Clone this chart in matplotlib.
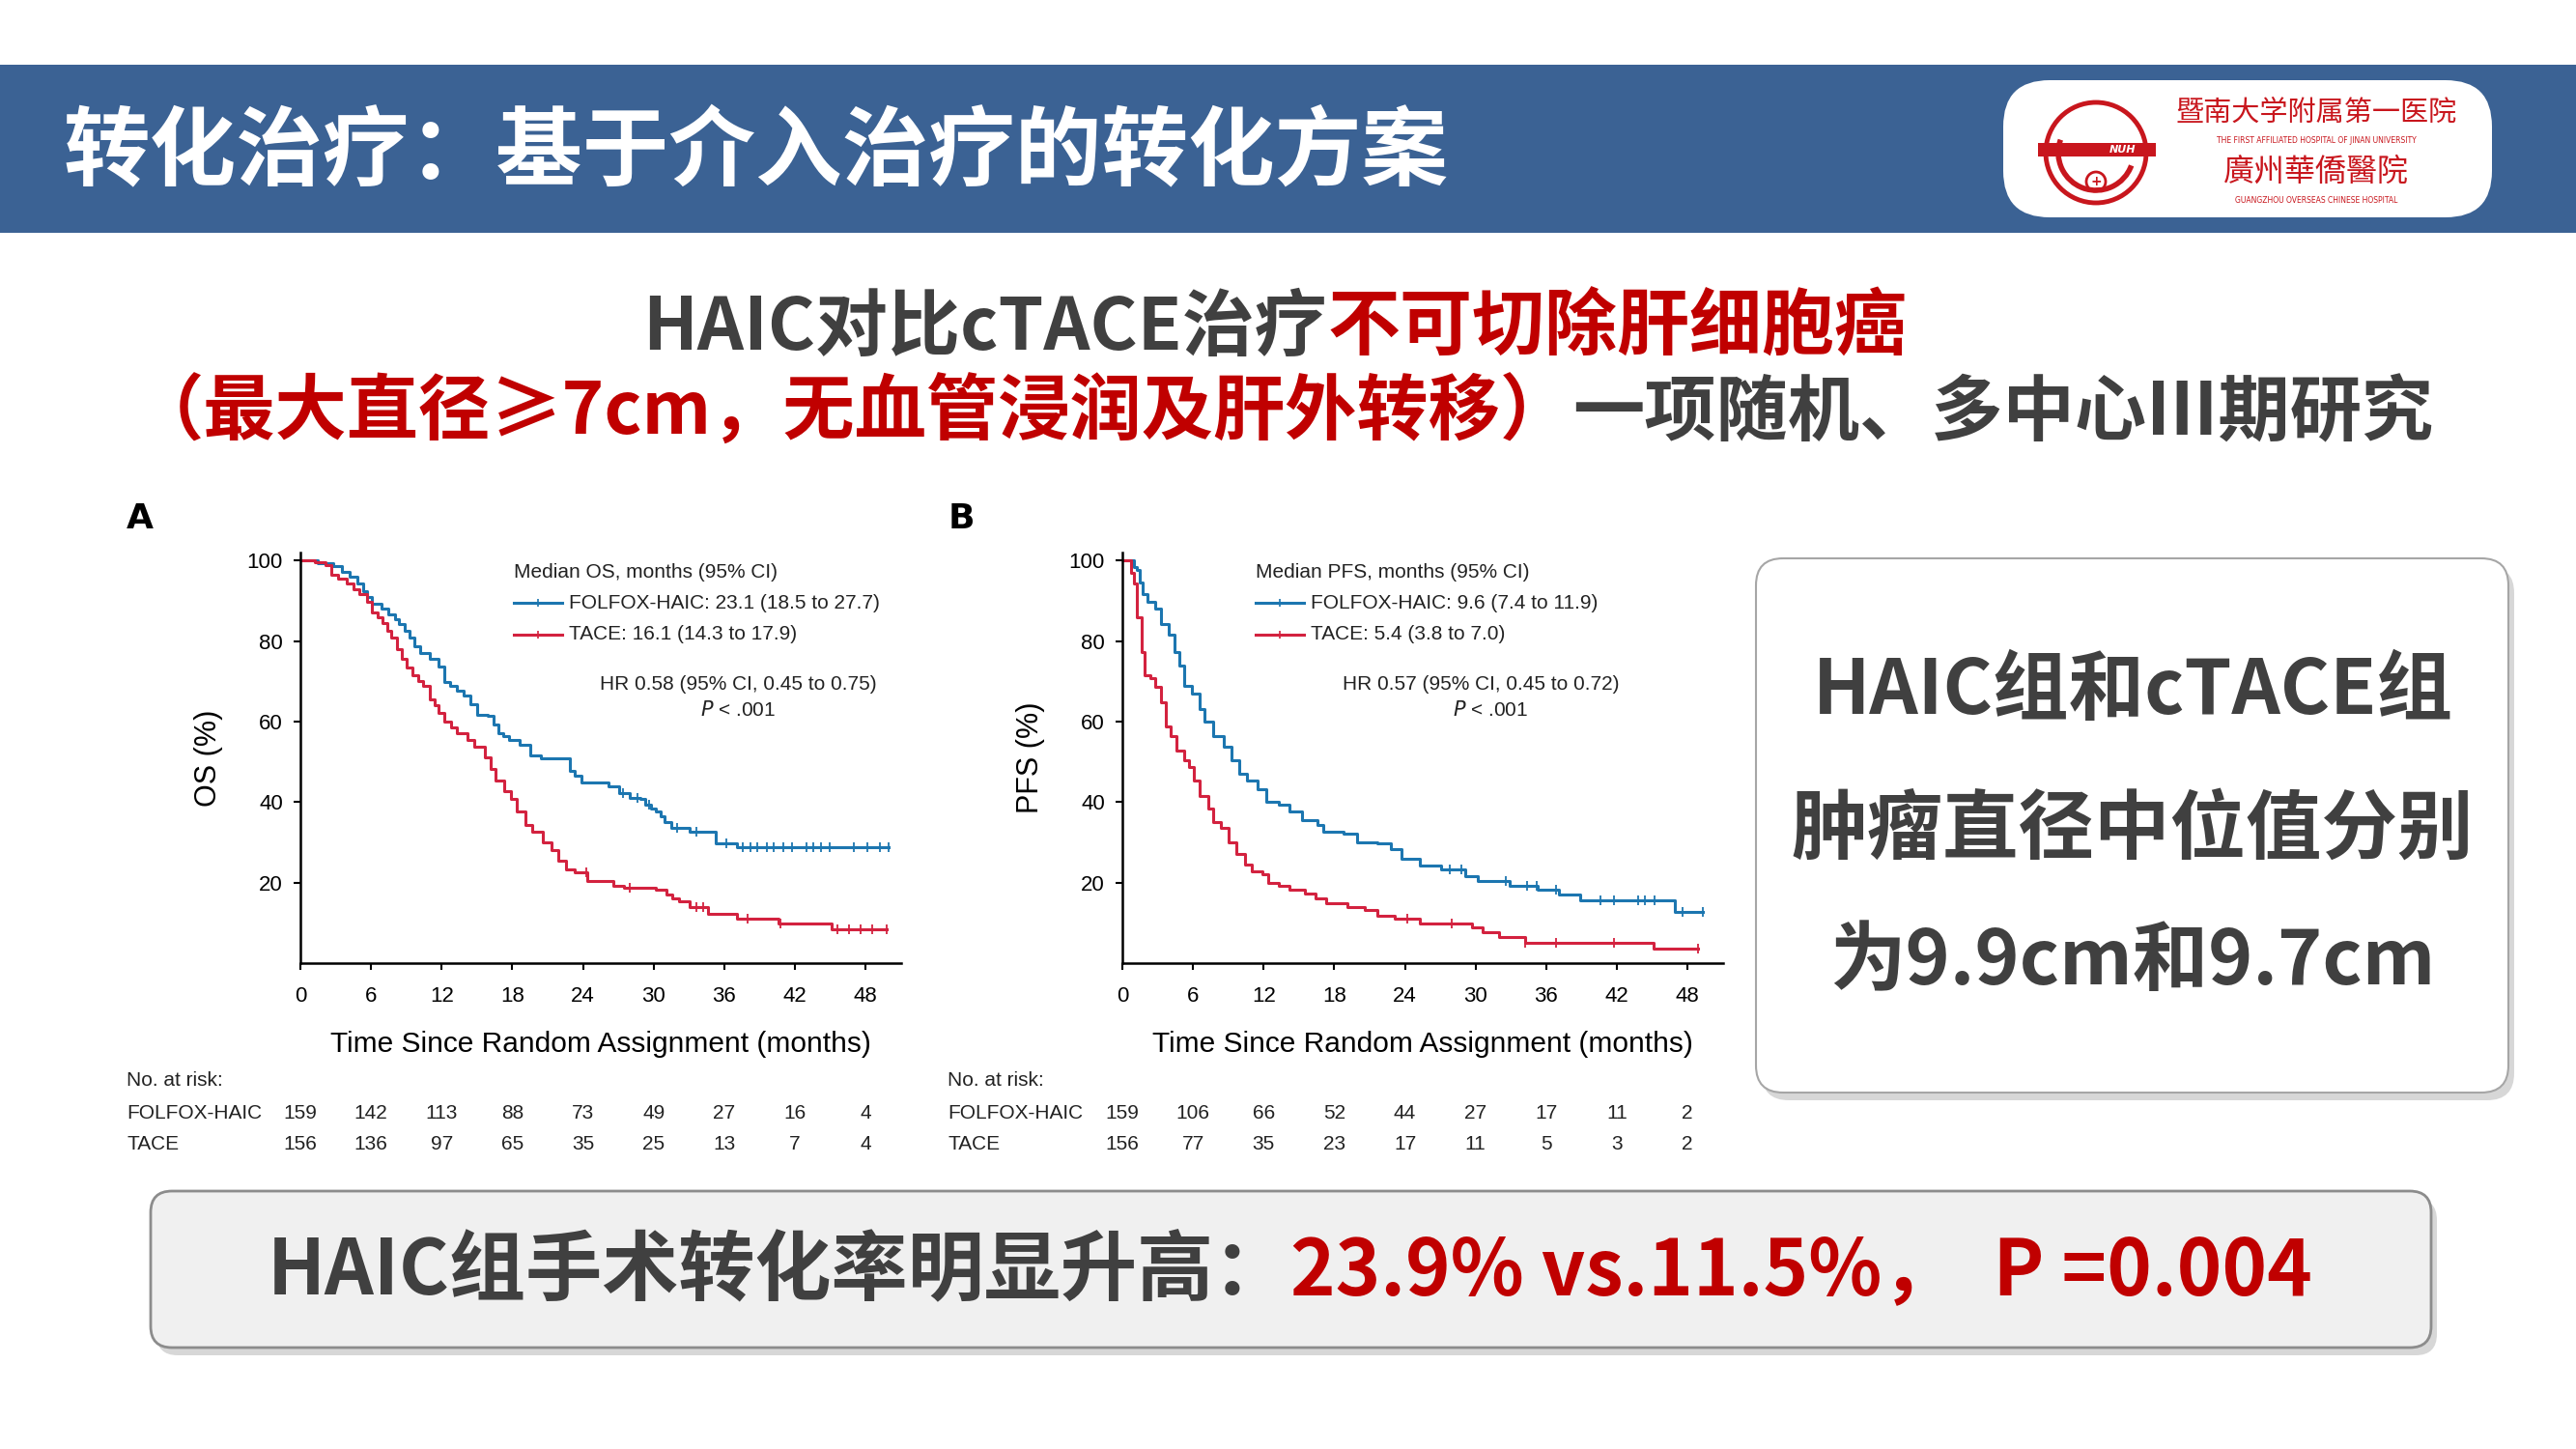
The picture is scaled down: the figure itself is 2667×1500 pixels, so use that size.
import numpy as np
import matplotlib
matplotlib.use("Agg")
import matplotlib.pyplot as plt
from matplotlib.patches import FancyBboxPatch, Rectangle, Circle, Arc

plt.rcParams['font.family'] = ['Noto Sans CJK SC', 'DejaVu Sans']

# ---------------- data ----------------
months_ticks = [0, 6, 12, 18, 24, 30, 36, 42, 48]
pct_ticks = [20, 40, 60, 80, 100]

os_haic_t = [0, 1.5, 2.8, 3.5, 4.2, 4.8, 5.3, 5.7, 6.1, 6.9, 7.5, 8.0, 8.4, 8.9, 9.3, 9.7, 10.2, 11.0, 11.7, 12.2,
             12.7, 13.3, 13.9, 14.4, 15.0, 15.9, 16.4, 16.8, 17.2, 17.7, 18.6, 19.5, 20.4, 22.9, 23.3, 23.9, 26.2,
             27.1, 28.0, 28.9, 29.3, 29.8, 30.2, 30.6, 30.9, 31.5, 33.1, 35.3, 37.1, 50.0]
os_haic_s = [100, 99.3, 98.6, 97.3, 96, 94.3, 92.5, 91, 89.3, 88.2, 86.7, 85.5, 84.2, 82.5, 80.8, 78.7, 77, 75.7,
             73.6, 69.8, 68.8, 67.7, 66.4, 64.3, 61.8, 61.4, 59.3, 57.1, 56.3, 55.5, 54.2, 51.6, 50.8, 47.8, 46.5,
             44.9, 44, 42.3, 41, 40.7, 39.4, 38.5, 37.7, 36.5, 35.1, 33.5, 32.6, 29.7, 28.8, 28.8]
os_haic_cens = [27.4, 28.6, 29.6, 32.0, 33.6, 36.2, 37.6, 38.2, 38.8, 39.6, 40.2, 41.0, 41.8, 43.0, 43.6, 44.2,
                45.0, 47.0, 48.2, 49.2, 50.0]

os_tace_t = [0, 1.2, 2.1, 2.6, 3.2, 3.9, 4.5, 5.0, 5.7, 6.1, 6.6, 7.0, 7.4, 7.7, 8.2, 8.6, 9.0, 9.5, 10.0, 10.4,
             11.0, 11.4, 11.7, 12.2, 12.8, 13.3, 14.2, 14.8, 15.7, 16.2, 16.6, 17.3, 17.9, 18.4, 19.1, 19.7, 20.6,
             21.3, 21.9, 22.6, 23.3, 24.4, 26.6, 27.5, 30.2, 31.1, 31.6, 32.2, 33.1, 34.6, 37.1, 40.6, 45.1, 49.8]
os_tace_s = [100, 99.5, 99, 96.4, 95.5, 94.3, 93, 91.8, 89.7, 87.2, 86, 84.6, 82.5, 80.8, 78, 75.7, 73.5, 71.5,
             70.2, 69, 65.6, 64, 62.2, 60.1, 58.5, 57.1, 55.5, 53.8, 51.2, 48.3, 45.3, 42.8, 40.7, 37.7, 34.3,
             32.6, 30.1, 28, 25.4, 23.3, 22.5, 20.4, 19.1, 18.7, 18.3, 17, 16.2, 15.3, 14, 12.3, 11.1, 9.8, 8.5, 8.5]
os_tace_cens = [24.3, 28.0, 33.6, 34.2, 38.0, 40.8, 45.6, 46.6, 47.6, 48.6, 49.8]

pfs_haic_t = [0, 1.0, 1.25, 1.5, 1.7, 2.1, 2.8, 3.25, 3.9, 4.4, 4.8, 5.25, 5.9, 6.6, 7.0, 7.7, 8.6, 9.3, 9.9,
              10.6, 11.5, 12.2, 13.3, 14.2, 15.3, 16.6, 17.1, 18.8, 19.9, 21.7, 22.8, 23.7, 25.3, 27.1, 29.1,
              30.2, 32.9, 35.3, 37.1, 38.9, 46.9, 49.3]
pfs_haic_s = [100, 98.5, 97.7, 94.5, 91.8, 89.7, 88, 84.2, 81.7, 77.4, 74, 69, 66.9, 63.1, 60.1, 56.3, 53.8,
              50.4, 47, 45.3, 43.2, 40.2, 39.4, 37.7, 35.6, 34.3, 32.6, 32.2, 30.1, 29.7, 28.4, 25.9, 24.2, 23.3,
              21.6, 20.4, 19.1, 18.3, 17, 15.7, 12.7, 12.7]
pfs_haic_cens = [27.8, 28.8, 32.6, 34.4, 35.2, 36.8, 40.6, 41.8, 43.8, 44.4, 45.2, 47.6, 49.3]

pfs_tace_t = [0, 0.7, 1.0, 1.25, 1.6, 1.9, 2.4, 2.8, 3.25, 3.7, 4.1, 4.6, 5.25, 5.7, 6.1, 6.6, 7.3, 7.7, 8.4,
              9.0, 9.7, 10.4, 11.0, 11.9, 12.4, 13.3, 14.2, 15.5, 16.4, 17.3, 19.1, 20.6, 21.7, 23.1, 25.3, 29.7,
              30.6, 32.0, 34.2, 45.1, 48.9]
pfs_tace_s = [100, 97, 94.3, 85.9, 77.4, 71.5, 70.7, 68.6, 64.8, 58.8, 56.3, 52.9, 50.4, 48.7, 45.3, 41.5, 38.5,
              35.1, 33.5, 30.1, 27.1, 24.6, 22.9, 22, 19.9, 19.1, 18.3, 17.4, 16.1, 14.8, 14, 13.1, 11.8, 11,
              9.8, 8.9, 7.7, 6.4, 5.1, 3.5, 3.5]
pfs_tace_cens = [24.2, 28.0, 34.2, 36.8, 41.8, 48.9]

risk_groups = ["FOLFOX-HAIC", "TACE"]
os_risk_haic = [159, 142, 113, 88, 73, 49, 27, 16, 4]
os_risk_tace = [156, 136, 97, 65, 35, 25, 13, 7, 4]
pfs_risk_haic = [159, 106, 66, 52, 44, 27, 17, 11, 2]
pfs_risk_tace = [156, 77, 35, 23, 17, 11, 5, 3, 2]

title = "转化治疗：基于介入治疗的转化方案"
sub1 = [("HAIC对比cTACE治疗", "grey"), ("不可切除肝细胞癌", "red")]
sub2 = [("（最大直径≥7cm，无血管浸润及肝外转移）", "red"), ("一项随机、多中心Ⅲ期研究", "grey")]
box_lines = ["HAIC组和cTACE组", "肿瘤直径中位值分别", "为9.9cm和9.7cm"]
bottom_parts = [("HAIC组手术转化率明显升高：", "grey"), ("23.9% vs.11.5%，  P =0.004", "red")]

# ---------------- style ----------------
W, H = 2667, 1500
BLUE = '#1c76b0'
RED = '#d3223f'
GREY_T = '#404040'
RED_T = '#c00000'
HEADER = '#3b6294'
cmap = {"grey": GREY_T, "red": RED_T}
KMFONT = ['Liberation Sans Narrow', 'Liberation Sans', 'DejaVu Sans']

fig = plt.figure(figsize=(W / 100, H / 100), dpi=100)
bg = fig.add_axes([0, 0, 1, 1], zorder=0)
bg.set_xlim(0, W)
bg.set_ylim(H, 0)
bg.axis('off')

# header band
bg.add_patch(Rectangle((0, 67), W, 174, facecolor=HEADER, edgecolor='none'))
bg.text(65, 159, title, color='white', fontsize=64.5, fontweight='bold', ha='left', va='center')

# logo
bg.add_patch(FancyBboxPatch((2074, 83), 506, 142, boxstyle="round,pad=0,rounding_size=48",
                            facecolor='white', edgecolor='none'))
LR = '#c8161d'
bg.add_patch(Circle((2170, 158), 52, facecolor='none', edgecolor=LR, lw=3.5))
bg.add_patch(Arc((2170, 158), 78, 78, theta1=20, theta2=200, color=LR, lw=4))
bg.add_patch(Rectangle((2110, 148), 122, 14, facecolor=LR, edgecolor='none'))
bg.text(2198, 155, "NUH", color='white', fontsize=8, fontweight='bold', style='italic', ha='center', va='center',
        family='DejaVu Sans')
bg.add_patch(Circle((2170, 188), 10, facecolor='none', edgecolor=LR, lw=2))
bg.text(2170, 188, "+", color=LR, fontsize=10, fontweight='bold', ha='center', va='center', family='DejaVu Sans')
bg.text(2398, 117, "暨南大学附属第一医院", color=LR, fontsize=21, ha='center', va='center')
bg.text(2398, 145, "THE FIRST AFFILIATED HOSPITAL OF JINAN UNIVERSITY", color=LR, fontsize=5.5,
        ha='center', va='center', family='DejaVu Sans')
bg.text(2398, 178, "廣州華僑醫院", color=LR, fontsize=23, ha='center', va='center', family=['Noto Sans CJK TC'])
bg.text(2398, 207, "GUANGZHOU OVERSEAS CHINESE HOSPITAL", color=LR, fontsize=5.5,
        ha='center', va='center', family='DejaVu Sans')

renderer = fig.canvas.get_renderer()


def rich(x, y, parts, size, ha='center'):
    texts = [bg.text(0, y, s, color=cmap[c], fontsize=size, fontweight='bold', ha='left', va='center')
             for s, c in parts]
    widths = [t.get_window_extent(renderer).width for t in texts]
    start = x - sum(widths) / 2 if ha == 'center' else x
    for t, w in zip(texts, widths):
        t.set_x(start)
        start += w


rich(1320, 340, sub1, 54)
rich(1328, 428, sub2, 53.5)

# right box
bg.add_patch(FancyBboxPatch((1824, 586), 779, 553, boxstyle="round,pad=0,rounding_size=28",
                            facecolor='#bdbdbd', edgecolor='none', alpha=0.6))
bg.add_patch(FancyBboxPatch((1818, 578), 779, 553, boxstyle="round,pad=0,rounding_size=28",
                            facecolor='white', edgecolor='#a6a6a6', lw=1.5))
for yy, line in zip([716, 860, 996], box_lines):
    bg.text(2208, yy, line, color=GREY_T, fontsize=56.5, fontweight='bold', ha='center', va='center')

# bottom box
bg.add_patch(FancyBboxPatch((162, 1241), 2361, 162, boxstyle="round,pad=0,rounding_size=22",
                            facecolor='#bdbdbd', edgecolor='none', alpha=0.6))
bg.add_patch(FancyBboxPatch((156, 1233), 2361, 162, boxstyle="round,pad=0,rounding_size=22",
                            facecolor='#f0f0f0', edgecolor='#8c8c8c', lw=2))
rich(1335, 1317, bottom_parts, 57)


# ---------------- KM panels ----------------
def step_val(t, s, x):
    i = np.searchsorted(np.asarray(t), x, side='right') - 1
    return np.asarray(s)[i]


def km_panel(left_px, letter, ylab, curves, legend_title, legend_items, hr, risk, risk_x_px):
    ax = fig.add_axes([left_px / W, 1 - 997 / H, 621.6 / W, 425 / H], zorder=1)
    ax.patch.set_alpha(0)
    for t, s, cens, col in curves:
        ax.step(t, s, where='post', color=col, lw=2.2)
        ax.plot(cens, [step_val(t, s, c) for c in cens], ls='none', marker='|', ms=7, mew=1.3, color=col)
    ax.set_xlim(0, 51)
    ax.set_ylim(0, 102)
    ax.set_xticks(months_ticks)
    ax.set_yticks(pct_ticks)
    for sp in ['top', 'right']:
        ax.spines[sp].set_visible(False)
    for sp in ['left', 'bottom']:
        ax.spines[sp].set_linewidth(1.8)
    ax.tick_params(length=5, width=1.5, pad=8, labelsize=16)
    ax.tick_params(axis='x', pad=12)
    for lab in ax.get_xticklabels() + ax.get_yticklabels():
        lab.set_family(KMFONT)
    ax.set_xlabel("Time Since Random Assignment (months)", family=KMFONT, fontsize=21.5, labelpad=18)
    ax.set_ylabel(ylab, family=KMFONT, fontsize=22, labelpad=18)

    # panel letter
    bg.text(left_px - 180, 537, letter, fontsize=26, fontweight='bold', family='DejaVu Sans', ha='left',
            va='center')
    # legend
    lx = legend_items[0]
    bg.text(lx, 592, legend_title, family=KMFONT, fontsize=15, ha='left', va='center', color='#222222')
    for yy, (lab, col) in zip([624, 657], legend_items[1]):
        bg.plot([lx, lx + 50], [yy, yy], color=col, lw=2.2)
        bg.plot([lx + 25], [yy], marker='|', ms=6, mew=1.2, color=col)
        bg.text(lx + 57, yy, lab, family=KMFONT, fontsize=15, ha='left', va='center', color='#222222')
    hr_right, p_center = hr[0], hr[1]
    bg.text(hr_right, 708, hr[2], family=KMFONT, fontsize=15, ha='right', va='center', color='#222222')
    bg.text(p_center, 735, r"$\it{P}$ < .001", family=KMFONT, fontsize=15, ha='center', va='center',
            color='#222222')
    # risk table
    bg.text(risk_x_px, 1119, "No. at risk:", family=KMFONT, fontsize=15, ha='left', va='center',
            color='#222222')
    for yy, grp, vals in zip([1152, 1184], risk_groups, risk):
        bg.text(risk_x_px, yy, grp, family=KMFONT, fontsize=15, ha='left', va='center', color='#222222')
        for m, v in zip(months_ticks, vals):
            xx = left_px + m * 621.6 / 51
            bg.text(xx, yy, str(v), family=KMFONT, fontsize=15, ha='center', va='center', color='#222222')
    return ax


km_panel(311, "A", "OS (%)",
         [(os_haic_t, os_haic_s, os_haic_cens, BLUE), (os_tace_t, os_tace_s, os_tace_cens, RED)],
         "Median OS, months (95% CI)",
         (532, [("FOLFOX-HAIC: 23.1 (18.5 to 27.7)", BLUE), ("TACE: 16.1 (14.3 to 17.9)", RED)]),
         (908, 764, "HR 0.58 (95% CI, 0.45 to 0.75)"),
         [os_risk_haic, os_risk_tace], 131)

km_panel(1162, "B", "PFS (%)",
         [(pfs_haic_t, pfs_haic_s, pfs_haic_cens, BLUE), (pfs_tace_t, pfs_tace_s, pfs_tace_cens, RED)],
         "Median PFS, months (95% CI)",
         (1300, [("FOLFOX-HAIC: 9.6 (7.4 to 11.9)", BLUE), ("TACE: 5.4 (3.8 to 7.0)", RED)]),
         (1676, 1543, "HR 0.57 (95% CI, 0.45 to 0.72)"),
         [pfs_risk_haic, pfs_risk_tace], 981)

fig.savefig("out.png", dpi=100)
